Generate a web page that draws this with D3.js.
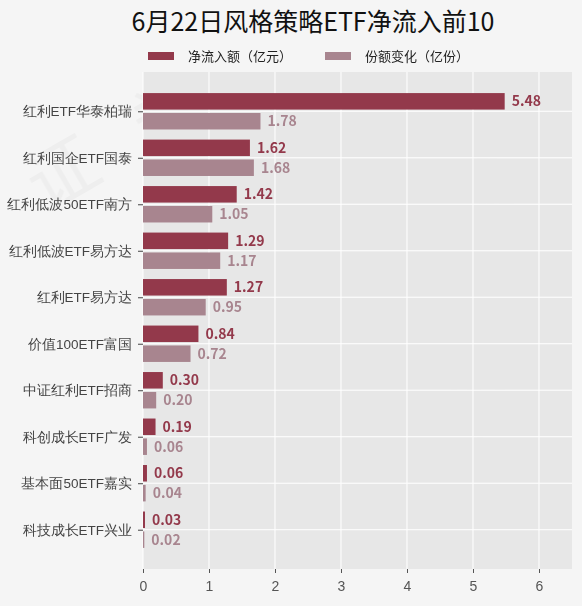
<!DOCTYPE html>
<html lang="zh">
  <head>
    <meta charset="UTF-8" />
    <title>6月22日风格策略ETF净流入前10</title>
    <style>
      body { margin: 0; background: #f5f5f5; }
      svg { display: block; font-family: "Noto Sans CJK SC", "Noto Sans", sans-serif; }
    </style>
  </head>
  <body>
    <svg width="582" height="606"></svg>
  </body>
  <script src="https://cdn.jsdelivr.net/npm/d3@7/dist/d3.min.js"></script>
  <script>
    // data, top to bottom
    const funds = [
      "红利ETF华泰柏瑞", "红利国企ETF国泰", "红利低波50ETF南方", "红利低波ETF易方达",
      "红利ETF易方达", "价值100ETF富国", "中证红利ETF招商", "科创成长ETF广发",
      "基本面50ETF嘉实", "科技成长ETF兴业"
    ];
    const netInflow = [5.48, 1.62, 1.42, 1.29, 1.27, 0.84, 0.30, 0.19, 0.06, 0.03];
    const shareChange = [1.78, 1.68, 1.05, 1.17, 0.95, 0.72, 0.20, 0.06, 0.04, 0.02];
    const seriesNames = ["净流入额（亿元）", "份额变化（亿份）"];
    const xTicks = [0, 1, 2, 3, 4, 5, 6];

    const colors = ["#93394b", "#a8858f"];
    const margin = { top: 72, right: 10, bottom: 37, left: 143 };
    const width = 582, height = 606;

    const svg = d3.select("svg");

    // faint watermark, one glyph at a time, kept inside the canvas
    const wmChars = [
      ["证", 75, 195], ["券", 180, 135],
      ["证", 505, 205], ["券", 495, 430],
      ["之", 205, 540], ["星", 305, 520]
    ];
    svg.append("g").attr("fill", "#000").attr("opacity", 0.03)
      .style("font-size", "70px")
      .selectAll("text").data(wmChars).join("text")
      .attr("text-anchor", "middle")
      .attr("transform", d => `translate(${d[1]},${d[2]}) rotate(-30)`)
      .text(d => d[0]);

    const x = d3.scaleLinear().domain([0, 6.5]).range([margin.left, width - margin.right]);
    const y = d3.scalePoint().domain(funds)
      .range([margin.top, height - margin.bottom]).padding(0.845);

    // panel
    svg.append("rect")
      .attr("x", x(0)).attr("y", margin.top)
      .attr("width", x(6.5) - x(0)).attr("height", height - margin.bottom - margin.top)
      .attr("fill", "#e5e5e5").attr("fill-opacity", 0.9);

    // grid
    svg.append("g").selectAll("line").data(xTicks).join("line")
      .attr("x1", d => x(d)).attr("x2", d => x(d))
      .attr("y1", margin.top).attr("y2", height - margin.bottom)
      .attr("stroke", "#fff").attr("stroke-width", 1);
    svg.append("g").selectAll("line").data(funds).join("line")
      .attr("x1", x(0)).attr("x2", x(6.5))
      .attr("y1", d => y(d)).attr("y2", d => y(d))
      .attr("stroke", "#fff").attr("stroke-width", 1);

    // bars
    const barH = 16.5, gap = 1.7;
    const series = [netInflow, shareChange];
    series.forEach((vals, si) => {
      const g = svg.append("g");
      g.selectAll("rect").data(vals).join("rect")
        .attr("x", x(0))
        .attr("y", (d, i) => si === 0 ? y(funds[i]) - gap - barH : y(funds[i]) + gap)
        .attr("width", d => x(d) - x(0))
        .attr("height", barH)
        .attr("fill", colors[si]);
      g.selectAll("text").data(vals).join("text")
        .attr("x", d => x(d) + 7)
        .attr("y", (d, i) => (si === 0 ? y(funds[i]) - gap - barH / 2 : y(funds[i]) + gap + barH / 2) + 5)
        .attr("fill", colors[si])
        .style("font-size", "14px").style("font-weight", "bold")
        .text(d => d.toFixed(2));
    });

    // y axis
    const yAxis = svg.append("g")
      .attr("transform", `translate(${x(0)},0)`)
      .call(d3.axisLeft(y).tickSize(5).tickPadding(6));
    yAxis.select(".domain").remove();
    yAxis.selectAll("line").attr("stroke", "#444");
    yAxis.selectAll("text").attr("fill", "#444").style("font-size", "13.5px");

    // x axis
    const xAxis = svg.append("g")
      .attr("transform", `translate(0,${height - margin.bottom})`)
      .call(d3.axisBottom(x).tickValues(xTicks).tickFormat(d3.format("d")).tickSize(4).tickPadding(8));
    xAxis.select(".domain").remove();
    xAxis.selectAll("line").attr("stroke", "#555");
    xAxis.selectAll("text").attr("fill", "#555").style("font-size", "14px");

    // title
    svg.append("text")
      .attr("x", 313).attr("y", 31)
      .attr("text-anchor", "middle")
      .attr("fill", "#111")
      .style("font-size", "25px")
      .text("6月22日风格策略ETF净流入前10");

    // legend
    const legendX = [148, 325];
    const lg = svg.append("g").selectAll("g").data(seriesNames).join("g")
      .attr("transform", (d, i) => `translate(${legendX[i]},52)`);
    lg.append("rect").attr("width", 26).attr("height", 8)
      .attr("fill", (d, i) => colors[i]);
    lg.append("text").attr("x", 40).attr("y", 9)
      .attr("fill", "#222").style("font-size", "13px")
      .text(d => d);
  </script>
</html>
